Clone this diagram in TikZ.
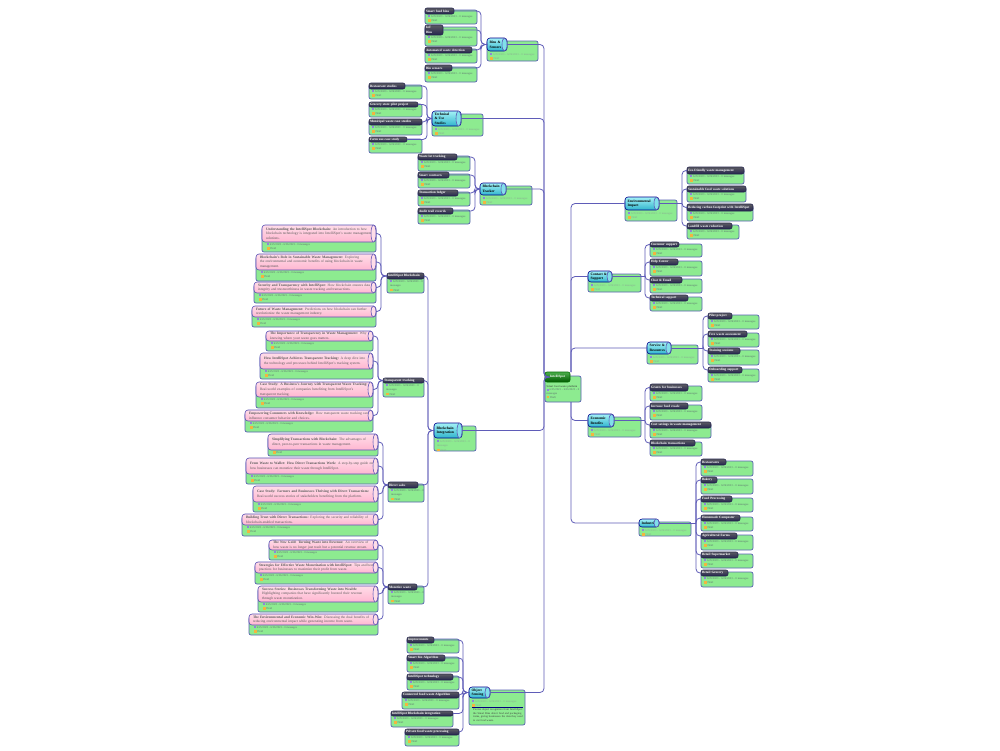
\documentclass[tikz,border=0pt]{standalone}
\usepackage{xcolor}
\usepackage{fontspec}
\setmainfont{Liberation Serif}
\usetikzlibrary{calc,positioning}
\definecolor{linkblue}{HTML}{5F5CB8}
\definecolor{edgeblue}{HTML}{5A62B4}
\definecolor{capblue}{HTML}{5A50B4}
\definecolor{bodygreen}{HTML}{8DEB90}
\definecolor{metagray}{HTML}{5C706E}
\definecolor{topicgray}{HTML}{8AA890}
\definecolor{icondot}{HTML}{8E86D8}
\definecolor{iconorange}{HTML}{F2B540}
\definecolor{cardtop}{HTML}{FFDDE8}
\definecolor{cardbot}{HTML}{FFB6D0}
\definecolor{headtop}{HTML}{5C5C62}
\definecolor{headbot}{HTML}{24244E}
\definecolor{topictop}{HTML}{A4F2F6}
\definecolor{topicbot}{HTML}{2FB4CC}
\tikzset{%
	bodybox/.style  = {draw=edgeblue, fill=bodygreen, rectangle, rounded corners=2pt, line width=0.7pt, outer sep=0pt},
	headbox/.style  = {draw=headbot, top color=headtop, bottom color=headbot, rectangle, rounded corners=2pt, line width=0.6pt, outer sep=0pt, inner xsep=1pt, inner ysep=0.3pt, text=white, align=left, font=\fontsize{3.3}{4.2}\selectfont\bfseries},
	cardbox/.style  = {rectangle, rounded corners=3pt, draw=capblue, top color=cardtop, bottom color=cardbot, line width=0.6pt, outer sep=0pt, inner xsep=2pt, inner ysep=0.2pt, text=black!65, align=left, font=\fontsize{3.55}{4.7}\selectfont},
	topicbox/.style = {rectangle, rounded corners=3pt, draw=blue!55!black, top color=topictop, bottom color=topicbot, line width=0.6pt, outer sep=0pt, inner xsep=2pt, inner ysep=0.3pt, align=left, font=\fontsize{3.6}{4.6}\selectfont\bfseries},
	metabox/.style  = {anchor=north west, inner sep=0pt, text=metagray, align=left, font=\fontsize{2.8}{4.4}\selectfont},
	capline/.style  = {draw=capblue, line width=0.55pt},
	link/.style     = {draw=linkblue, line width=0.8pt, rounded corners=4pt},
}
\newcommand{\metarow}[1]{\textcolor{icondot}{\rule{2pt}{2pt}}\ #1}
\newcommand{\draftrow}{\textcolor{iconorange}{\rule{2.4pt}{2.4pt}}\ Draft}
\newcommand{\datesrow}{6/25/2023 - 6/26/2023 - 0 messages}
% dark header on a green body: name, x1, x2, header x2, y1, header y2, body y2, title
\newcommand{\leaf}[8]{%
	\pgfmathsetmacro\wb{#3-#2}\pgfmathsetmacro\hb{#7-#5-2}
	\pgfmathsetmacro\wh{#4-#2}\pgfmathsetmacro\hh{#6-#5}\pgfmathsetmacro\wt{#4-#2-2}
	\pgfmathsetmacro\wm{#3-#2-3}
	\node[bodybox, anchor=north west, minimum width=\wb pt, minimum height=\hb pt] (#1b) at (#2,#5+2) {};
	\node[headbox, anchor=north west, minimum width=\wh pt, minimum height=\hh pt, text width=\wt pt] (#1) at (#2,#5) {#8};
	\node[metabox, text width=\wm pt] (#1m) at ($(#2+3,#6+1.2)$) {\metarow{\datesrow}\\\draftrow};
}
% pink cylinder on a green body: name, x1, x2, y1, y2, body y2, text
\newcommand{\card}[7]{%
	\pgfmathsetmacro\wb{#3-#2}\pgfmathsetmacro\hb{#6-#4-3}\pgfmathsetmacro\hh{#5-#4}
	\pgfmathsetmacro\wt{#3-#2-8}\pgfmathtruncatemacro\hm{#6-#5}\pgfmathsetmacro\ry{(#5-#4)/2}
	\node[bodybox, anchor=north west, minimum width=\wb pt, minimum height=\hb pt] (#1b) at (#2,#4+3) {};
	\node[cardbox, anchor=north west, minimum width=\wb pt, minimum height=\hh pt, text width=\wt pt] (#1) at (#2,#4) {#7};
	\draw[capline, fill=cardtop] ($(#1.east)+(-2.5,0)$) ellipse (2.5 and \ry);
	\ifnum\hm<8
		\node[metabox] (#1m) at ($(#2+5,#5+1)$) {\draftrow};
	\else
		\node[metabox] (#1m) at ($(#2+5,#5+1)$) {\metarow{\datesrow}\\\draftrow};
	\fi
}
% cyan cylinder on a green body: name, x1, x2, header x2, y1, header y2, body y2, title
\newcommand{\topic}[8]{%
	\pgfmathsetmacro\wb{#3-#2}\pgfmathsetmacro\hb{#7-#5-3}
	\pgfmathsetmacro\wh{#4-#2}\pgfmathsetmacro\hh{#6-#5}\pgfmathsetmacro\wt{#4-#2-5}
	\pgfmathsetmacro\wm{#3-#2-4}\pgfmathsetmacro\ry{(#6-#5)/2}
	\node[bodybox, anchor=north west, minimum width=\wb pt, minimum height=\hb pt] (#1b) at (#2,#5+3) {};
	\node[topicbox, anchor=north west, minimum width=\wh pt, minimum height=\hh pt, text width=\wt pt] (#1) at (#2,#5) {#8};
	\draw[capline, fill=topictop!70!topicbot] ($(#1.east)+(-2.5,0)$) ellipse (2.5 and \ry);
	\node[metabox, text=topicgray, text width=\wm pt] (#1m) at ($(#2+3,#6+2)$) {\metarow{\datesrow}\\\draftrow};
}
\begin{document}
\lefthyphenmin=60 \hyphenpenalty=10000
\begin{tikzpicture}[x=1pt,y=-1pt]
	\useasboundingbox[fill=white] (0,0) rectangle (1000,750);
	% root
	\node[bodybox, anchor=north west, minimum width=36pt, minimum height=26pt] (rootb) at (545,376) {};
	\node[headbox, draw=green!40!black, top color=green!55!black!70, bottom color=green!35!black, anchor=north west, minimum width=25pt, minimum height=10pt] (root) at (545,372) {IntelliSpot};
	\node[metabox, text width=34pt] (rootm) at (546.5,385) {\textcolor{black!80}{Smart food waste platform}\\[-1pt]\metarow{\datesrow}\\[-1pt]\draftrow};
	\coordinate (rootl) at ($(root.west)+(-1,0)$);
	\coordinate (rootu) at (571,372);
	\coordinate (rootd) at (571,402);

	% top left groups
	\topic{bins}{487}{538}{507}{38}{51}{61}{Bins \&\\Sensors}
	\leaf{binsa}{425}{477}{454}{8}{14}{24}{Smart food bins}
	\leaf{binsb}{425}{477}{443}{25}{35}{46}{IoT\\Bins}
	\leaf{binsc}{425}{477}{472}{47}{53}{63}{Automated waste detection}
	\leaf{binsd}{425}{477}{452}{65}{71}{82}{Bin sensors}
	\coordinate (binsj) at ($(bins.west)+(-6,0)$);
	\foreach \c in {binsa,binsb,binsc,binsd} \draw[link] (\c.east) -| (binsj) -- (bins.west);

	\topic{tech}{432}{483}{461}{111}{126}{136}{Technical\\\& Use\\Studies}
	\leaf{techa}{369}{422}{405}{83}{89}{99}{Restaurant studies}
	\leaf{techb}{369}{422}{418}{102}{107}{117}{Grocery store pilot project}
	\leaf{techc}{369}{422}{422}{119}{125}{135}{Municipal waste case studies}
	\leaf{techd}{369}{422}{407}{137}{142}{153}{Farm use-case study}
	\coordinate (techj) at ($(tech.west)+(-5,0)$);
	\foreach \c in {techa,techb,techc,techd} \draw[link] (\c.east) -| (techj) -- (tech.west);

	\topic{trak}{480}{532}{506}{183}{195}{205}{Blockchain\\Tracker}
	\leaf{traka}{418}{470}{457}{154}{160}{171}{Waste lot tracking}
	\leaf{trakb}{418}{470}{449}{172}{178}{188}{Smart contracts}
	\leaf{trakc}{418}{470}{458}{190}{196}{206}{Transaction ledger}
	\leaf{trakd}{418}{470}{453}{208}{214}{224}{Audit trail records}
	\coordinate (trakj) at ($(trak.west)+(-5,0)$);
	\foreach \c in {traka,trakb,trakc,trakd} \draw[link] (\c.east) -| (trakj) -- (trak.west);

	% blockchain integration with its four groups of cards
	\topic{chain}{434}{476}{462}{423}{438}{451}{Blockchain\\Integration}
	\coordinate (chainj) at ($(chain.west)+(-6,0)$);
	\leaf{gone}{387}{424}{424}{273}{279}{293}{IntelliSpot Blockchain}
	\leaf{gtwo}{383}{424}{424}{378}{383}{397}{Transparent tracking}
	\leaf{gthree}{388}{424}{418}{482}{488}{502}{Direct sales}
	\leaf{gfour}{388}{424}{417}{584}{590}{604}{Monetize waste}
	\foreach \c in {gone,gtwo,gthree,gfour} \draw[link] (\c.east) -| (chainj) -- (chain.west);

	\card{ca}{262}{376}{225}{242}{252}{\textbf{Understanding the IntelliSpot Blockchain:} An introduction to how blockchain technology is integrated into IntelliSpot's waste management solutions.}
	\card{cb}{256}{376}{254}{270}{281}{\textbf{Blockchain's Role in Sustainable Waste Management:} Exploring the environmental and economic benefits of using blockchain in waste management.}
	\card{cc}{254}{376}{282}{293}{303}{\textbf{Security and Transparency with IntelliSpot:} How blockchain ensures data integrity and trustworthiness in waste tracking and transactions.}
	\card{cd}{252}{376}{306}{317}{327}{\textbf{Future of Waste Management:} Predictions on how blockchain can further revolutionize the waste management industry.}
	\coordinate (gonej) at ($(gone.west)+(-6,0)$);
	\foreach \c in {ca,cb,cc,cd} \draw[link] (\c.east) -| (gonej) -- (gone.west);

	\card{ce}{266}{373}{331}{341}{351}{\textbf{The Importance of Transparency in Waste Management:} Why knowing where your waste goes matters.}
	\card{cf}{260}{373}{353}{369}{379}{\textbf{How IntelliSpot Achieves Transparent Tracking:} A deep dive into the technology and processes behind IntelliSpot's tracking system.}
	\card{cg}{256}{373}{382}{397}{408}{\textbf{Case Study: A Business's Journey with Transparent Waste Tracking:} Real-world examples of companies benefiting from IntelliSpot's transparent tracking.}
	\card{ch}{245}{373}{410}{421}{432}{\textbf{Empowering Consumers with Knowledge:} How transparent waste tracking can influence consumer behavior and choices.}
	\coordinate (gtwoj) at ($(gtwo.west)+(-5,0)$);
	\foreach \c in {ce,cf,cg,ch} \draw[link] (\c.east) -| (gtwoj) -- (gtwo.west);

	\card{ci}{268}{378}{434}{450}{456}{\textbf{Simplifying Transactions with Blockchain:} The advantages of direct, peer-to-peer transactions in waste management.}
	\card{cj}{246}{378}{458}{474}{484}{\textbf{From Waste to Wallet: How Direct Transactions Work:} A step-by-step guide on how businesses can monetize their waste through IntelliSpot.}
	\card{ck}{253}{378}{486}{502}{512}{\textbf{Case Study: Farmers and Businesses Thriving with Direct Transactions:} Real-world success stories of stakeholders benefiting from the platform.}
	\card{cl}{242}{378}{514}{525}{536}{\textbf{Building Trust with Direct Transactions:} Exploring the security and reliability of blockchain-enabled transactions.}
	\coordinate (gthreej) at ($(gthree.west)+(-5,0)$);
	\foreach \c in {ci,cj,ck,cl} \draw[link] (\c.east) -| (gthreej) -- (gthree.west);

	\card{cm}{269}{378}{540}{550}{560}{\textbf{The New Gold: Turning Waste into Revenue:} An overview of how waste is no longer just trash but a potential revenue stream.}
	\card{cn}{255}{378}{562}{573}{584}{\textbf{Strategies for Effective Waste Monetization with IntelliSpot:} Tips and best practices for businesses to maximize their profit from waste.}
	\card{co}{258}{378}{586}{602}{612}{\textbf{Success Stories: Businesses Transforming Waste into Wealth:} Highlighting companies that have significantly boosted their revenue through waste monetization.}
	\card{cp}{249}{378}{614}{625}{635}{\textbf{The Environmental and Economic Win-Win:} Discussing the dual benefits of reducing environmental impact while generating income from waste.}
	\coordinate (gfourj) at ($(gfour.west)+(-5,0)$);
	\foreach \c in {cm,cn,co,cp} \draw[link] (\c.east) -| (gfourj) -- (gfour.west);

	% object detection, bottom
	\topic{obj}{469}{525}{490}{687}{698}{725}{Object\\Sensing}
	\draw[blue!50!black, line width=0.5pt] (472,707) -- (523,707);
	\node[metabox, text=black!75, text width=50pt, font=\fontsize{2.8}{3.5}\selectfont] (objt) at (473,708.5) {Precise object recognition from IntelliSpot: the Smart Bins detect food and packaging items, giving businesses the data they need to cut food waste.};
	\leaf{obja}{407}{459}{434}{637}{643}{653}{Improvements}
	\leaf{objb}{407}{459}{445}{655}{661}{672}{Smart bin Algorithm}
	\leaf{objc}{407}{459}{453}{674}{680}{690}{IntelliSpot technology}
	\leaf{objd}{402}{459}{459}{692}{698}{709}{Connected food waste Algorithm}
	\leaf{obje}{391}{453}{453}{711}{716}{727}{IntelliSpot Blockchain integration}
	\leaf{objf}{405}{459}{459}{729}{735}{746}{Private food waste processing}
	\coordinate (objj) at ($(obj.west)+(-6,0)$);
	\foreach \c in {obja,objb,objc,objd,obje,objf} \draw[link] (\c.east) -| (objj) -- (obj.west);

	% left trunk
	\foreach \c in {bins,tech,trak,chain,obj} \draw[link] (\c.east) -| (rootl) -- (root.west);

	% right side
	\topic{env}{625}{677}{659}{197}{210}{221}{Environmental\\Impact}
	\leaf{enva}{687}{744}{744}{167}{174}{184}{Eco-friendly waste management}
	\leaf{envb}{687}{746}{746}{186}{192}{202}{Sustainable food waste solutions}
	\leaf{envc}{687}{753}{753}{204}{211}{221}{Reducing carbon footprint with IntelliSpot}
	\leaf{envd}{687}{739}{732}{223}{229}{239}{Landfill waste reduction}
	\coordinate (envj) at ($(env.east)+(23,0)$);
	\draw[link] (env.east) -- (envj);
	\foreach \c in {enva,envb,envc,envd} \draw[link] (\c.west) -| (envj);

	\topic{con}{588}{641}{612}{271}{282}{292}{Contact \&\\Support}
	\leaf{cona}{650}{702}{679}{242}{247}{257}{Customer support}
	\leaf{conb}{650}{702}{678}{259}{265}{276}{Help Center}
	\leaf{conc}{650}{702}{682}{277}{283}{293}{Chat \& Email}
	\leaf{cond}{650}{702}{688}{295}{301}{311}{Technical support}
	\coordinate (conj) at ($(con.east)+(33,0)$);
	\draw[link] (con.east) -- (conj);
	\foreach \c in {cona,conb,conc,cond} \draw[link] (\c.west) -| (conj);

	\topic{ser}{647}{698}{671}{342}{354}{364}{Service \&\\Resources}
	\leaf{sera}{708}{759}{732}{313}{319}{329}{Pilot project}
	\leaf{serb}{708}{759}{747}{331}{337}{347}{Free waste assessment}
	\leaf{serc}{708}{759}{740}{348}{354}{365}{Training sessions}
	\leaf{serd}{708}{759}{742}{367}{373}{382}{Onboarding support}
	\coordinate (serj) at ($(ser.east)+(32,0)$);
	\draw[link] (ser.east) -- (serj);
	\foreach \c in {sera,serb,serc,serd} \draw[link] (\c.west) -| (serj);

	\topic{eco}{588}{641}{614}{414}{427}{437}{Economic\\Benefits}
	\leaf{ecoa}{650}{702}{688}{384}{391}{401}{Grants for businesses}
	\leaf{ecob}{650}{702}{688}{403}{409}{420}{Increase food resale}
	\leaf{ecoc}{650}{711}{711}{422}{428}{438}{Cost savings in waste management}
	\leaf{ecod}{650}{702}{695}{440}{446}{456}{Blockchain transactions}
	\coordinate (ecoj) at ($(eco.east)+(31,0)$);
	\draw[link] (eco.east) -- (ecoj);
	\foreach \c in {ecoa,ecob,ecoc,ecod} \draw[link] (\c.west) -| (ecoj);

	\topic{ind}{639}{691}{659}{519}{527}{536}{Industries}
	\leaf{inda}{701}{753}{726}{459}{465}{476}{Restaurants}
	\leaf{indb}{701}{753}{717}{477}{483}{494}{Bakery}
	\leaf{indc}{701}{753}{732}{496}{502}{512}{Food Processing}
	\leaf{indd}{701}{753}{740}{515}{521}{531}{Homemade Composter}
	\leaf{inde}{701}{753}{737}{533}{539}{550}{Agricultural Farms}
	\leaf{indf}{701}{753}{738}{552}{558}{568}{Retail Supermarket}
	\leaf{indg}{701}{753}{728}{570}{576}{587}{Retail Grocery}
	\coordinate (indj) at ($(ind.east)+(37,0)$);
	\draw[link] (ind.east) -- (indj);
	\foreach \c in {inda,indb,indc,indd,inde,indf,indg} \draw[link] (\c.west) -| (indj);

	% right trunk
	\foreach \c in {env,con,ser} \draw[link] (rootu) |- (\c.west);
	\foreach \c in {eco,ind} \draw[link] (rootd) |- (\c.west);
\end{tikzpicture}
\end{document}
